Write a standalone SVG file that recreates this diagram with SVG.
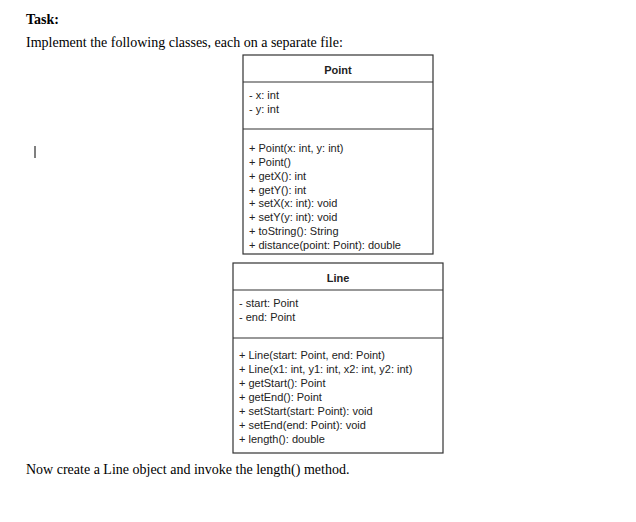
<svg xmlns="http://www.w3.org/2000/svg" width="636" height="522" viewBox="0 0 636 522">
<style>
.s{font-family:"Liberation Serif",serif;font-size:14px;fill:#000}
.u{font-family:"Liberation Sans",Arial,sans-serif;font-size:11px;fill:#222}
.h{font-weight:bold;text-anchor:middle}
.b{fill:#fff;stroke:#333;stroke-width:1.2}
.l{stroke:#333;stroke-width:1.2}
</style>
<rect width="636" height="522" fill="#fff"/>
<text class="s" x="26" y="24" style="font-weight:bold">Task:</text>
<text class="s" x="26" y="47">Implement the following classes, each on a separate file:</text>
<line x1="35" y1="146" x2="35" y2="158" stroke="#000" stroke-width="1"/>
<g id="point">
<rect class="b" x="243" y="55" width="190" height="199"/>
<line class="l" x1="243" y1="82" x2="433" y2="82"/>
<line class="l" x1="243" y1="129" x2="433" y2="129"/>
<text class="u h" x="338" y="74">Point</text>
<text class="u" x="249" y="99">- x: int</text>
<text class="u" x="249" y="113">- y: int</text>
<text class="u" x="249" y="152">+ Point(x: int, y: int)</text>
<text class="u" x="249" y="166">+ Point()</text>
<text class="u" x="249" y="180">+ getX(): int</text>
<text class="u" x="249" y="194">+ getY(): int</text>
<text class="u" x="249" y="207">+ setX(x: int): void</text>
<text class="u" x="249" y="221">+ setY(y: int): void</text>
<text class="u" x="249" y="235">+ toString(): String</text>
<text class="u" x="249" y="249">+ distance(point: Point): double</text>
</g>
<g id="line">
<rect class="b" x="233" y="263" width="210" height="190"/>
<line class="l" x1="233" y1="290" x2="443" y2="290"/>
<line class="l" x1="233" y1="338" x2="443" y2="338"/>
<text class="u h" x="338" y="282">Line</text>
<text class="u" x="239" y="307">- start: Point</text>
<text class="u" x="239" y="321">- end: Point</text>
<text class="u" x="239" y="359">+ Line(start: Point, end: Point)</text>
<text class="u" x="239" y="373">+ Line(x1: int, y1: int, x2: int, y2: int)</text>
<text class="u" x="239" y="387">+ getStart(): Point</text>
<text class="u" x="239" y="401">+ getEnd(): Point</text>
<text class="u" x="239" y="415">+ setStart(start: Point): void</text>
<text class="u" x="239" y="429">+ setEnd(end: Point): void</text>
<text class="u" x="239" y="443">+ length(): double</text>
</g>
<g id="connectors"/>
<text class="s" x="26" y="474">Now create a Line object and invoke the length() method.</text>
</svg>
